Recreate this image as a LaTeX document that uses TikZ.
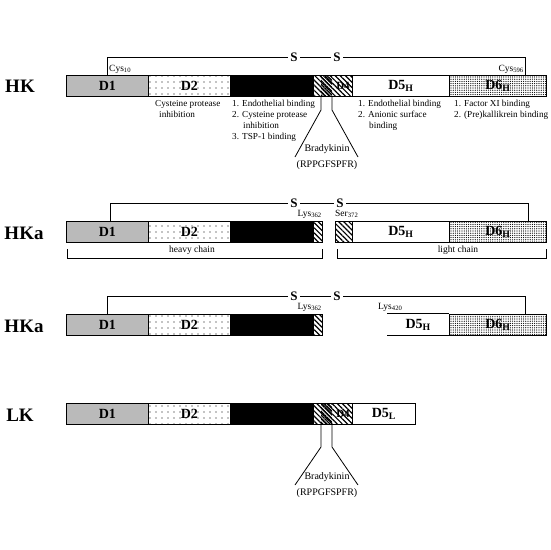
\documentclass[tikz,border=0pt]{standalone}
\usepackage{fontspec}
\setmainfont{Liberation Serif}
\usetikzlibrary{patterns,patterns.meta}
\begin{document}
\begin{tikzpicture}[x=1pt,y=-1pt,
  dom/.style={draw, line width=0.8pt, minimum height=21pt, inner sep=0pt, anchor=west, font=\fontsize{14}{14}\selectfont\bfseries},
  dgray/.style={fill=black!27},
  ddots/.style={pattern={Dots[distance=6pt,radius=0.6pt]}},
  dblack/.style={fill=black},
  dhatch/.style={pattern={Lines[angle=-45,distance=3.6pt,line width=1.2pt]}},
  dfine/.style={pattern={Dots[distance=2.2pt,radius=0.65pt]}},
  big/.style={font=\fontsize{19}{19}\selectfont\bfseries},
  sb/.style={fill=white, inner sep=2.5pt, font=\fontsize{13}{13}\selectfont\bfseries},
  small/.style={inner sep=0pt, font=\fontsize{9.5}{10}\selectfont},
  note/.style={inner sep=0pt, anchor=north west, align=left, font=\fontsize{9.2}{11}\selectfont},
  conn/.style={line width=0.8pt},
]
\useasboundingbox (0,0) rectangle (550,550);

% ================= HK =================
\node[big] (hk) at (20,86) {HK};
\node[dom,dgray,minimum width=82] (hkd1) at (66,85.5) {D1};
\node[dom,ddots,minimum width=82] (hkd2) at (148,85.5) {D2};
\node[dom,dblack,minimum width=83] (hkd3) at (230,85.5) {};
\node[dom,dhatch,minimum width=39] (hkd4) at (313,85.5) {};
\fill[pattern={Lines[angle=-45,distance=2.6pt,line width=1.3pt]}] (321,75) rectangle (332,96);
\node[inner sep=0pt,font=\fontsize{11}{11}\selectfont\bfseries] (hkd4l) at (343,86) {D4};
\draw[line width=0.8pt] (313,75) rectangle (352,96);
\node[dom,minimum width=97] (hkd5) at (352,85.5) {D5\textsubscript{H}};
\node[dom,dfine,minimum width=97] (hkd6) at (449,85.5) {D6\textsubscript{H}};

\coordinate (hkc1) at (107,75);
\coordinate (hkc2) at (525,75);
\draw[conn] (hkc1) -- (107,57) -- (525,57) -- (hkc2);
\node[sb] (hks1) at (294,57) {S};
\node[sb] (hks2) at (337,57) {S};
\node[small,anchor=west] (hkcys1) at (109,69) {Cys\textsubscript{10}};
\node[small,anchor=east] (hkcys2) at (524,69) {Cys\textsubscript{596}};

\node[note] (n2) at (155,100) {Cysteine protease\\\hspace{4pt}inhibition};
\node[note] (n3) at (232,100) {1. Endothelial binding\\2. Cysteine protease\\\hspace{11pt}inhibition\\3. TSP-1 binding};
\node[note] (n5) at (358,100) {1. Endothelial binding\\2. Anionic surface\\\hspace{11pt}binding};
\node[note] (n6) at (454,100) {1. Factor XI binding\\2. (Pre)kallikrein binding};

\coordinate (bka) at (321,96);
\coordinate (bkb) at (332,96);
\draw[conn] (bka) -- (321,110) -- (295,157);
\draw[conn] (bkb) -- (332,110) -- (358,157);
\node[inner sep=0pt,align=center,font=\fontsize{10}{16}\selectfont] (bk) at (327,157) {Bradykinin\\(RPPGFSPFR)};

% ================= HKa (1) =================
\node[big] (hka1) at (24,233) {HKa};
\node[dom,dgray,minimum width=82] (ad1) at (66,232) {D1};
\node[dom,ddots,minimum width=82] (ad2) at (148,232) {D2};
\node[dom,dblack,minimum width=83] (ad3) at (230,232) {};
\node[dom,dhatch,minimum width=9] (ad4) at (313,232) {};
\node[dom,dhatch,minimum width=17] (ad4b) at (335,232) {};
\node[dom,minimum width=97] (ad5) at (352,232) {D5\textsubscript{H}};
\node[dom,dfine,minimum width=97] (ad6) at (449,232) {D6\textsubscript{H}};

\coordinate (ac1) at (110,222);
\coordinate (ac2) at (528,222);
\draw[conn] (ac1) -- (110,203) -- (528,203) -- (ac2);
\node[sb] (as1) at (294,203) {S};
\node[sb] (as2) at (340,203) {S};
\node[small,anchor=east] (alys) at (322,214) {Lys\textsubscript{362}};
\node[small,anchor=west] (aser) at (335,214) {Ser\textsubscript{372}};

\coordinate (hc1) at (67,249);
\coordinate (hc2) at (322,249);
\draw[conn] (hc1) -- (67,258) -- (322,258) -- (hc2);
\node[inner sep=0pt,font=\fontsize{9.5}{11}\selectfont] (hcl) at (192,250) {heavy chain};
\coordinate (lc1) at (337,249);
\coordinate (lc2) at (546,249);
\draw[conn] (lc1) -- (337,258) -- (546,258) -- (lc2);
\node[inner sep=0pt,font=\fontsize{9.5}{11}\selectfont] (lcl) at (458,250) {light chain};

% ================= HKa (2) =================
\node[big] (hka2) at (24,326) {HKa};
\node[dom,dgray,minimum width=82] (bd1) at (66,324.5) {D1};
\node[dom,ddots,minimum width=82] (bd2) at (148,324.5) {D2};
\node[dom,dblack,minimum width=83] (bd3) at (230,324.5) {};
\node[dom,dhatch,minimum width=9] (bd4) at (313,324.5) {};
\node[inner sep=0pt,anchor=west,minimum width=62,minimum height=21,font=\fontsize{14}{14}\selectfont\bfseries] (bd5) at (387,324.5) {D5\textsubscript{H}};
\draw[line width=0.8pt] (bd5.north west) -- (bd5.north east) (bd5.south west) -- (bd5.south east);
\node[dom,dfine,minimum width=97] (bd6) at (449,324.5) {D6\textsubscript{H}};

\coordinate (bc1) at (107,314);
\coordinate (bc2) at (525,314);
\draw[conn] (bc1) -- (107,296) -- (525,296) -- (bc2);
\node[sb] (bs1) at (294,296) {S};
\node[sb] (bs2) at (337,296) {S};
\node[small,anchor=east] (blys) at (322,307) {Lys\textsubscript{362}};
\node[small,anchor=west] (blys2) at (378,307) {Lys\textsubscript{420}};

% ================= LK =================
\node[big] (lk) at (20,415) {LK};
\node[dom,dgray,minimum width=82] (ld1) at (66,413.5) {D1};
\node[dom,ddots,minimum width=82] (ld2) at (148,413.5) {D2};
\node[dom,dblack,minimum width=83] (ld3) at (230,413.5) {};
\node[dom,dhatch,minimum width=39] (ld4) at (313,413.5) {};
\fill[pattern={Lines[angle=-45,distance=2.6pt,line width=1.3pt]}] (321,403) rectangle (332,424);
\node[inner sep=0pt,font=\fontsize{11}{11}\selectfont\bfseries] (ld4l) at (343,414) {D4};
\draw[line width=0.8pt] (313,403) rectangle (352,424);
\node[dom,minimum width=63] (ld5) at (352,413.5) {D5\textsubscript{L}};

\coordinate (lka) at (321,424);
\coordinate (lkb) at (332,424);
\draw[conn] (lka) -- (321,447) -- (295,485);
\draw[conn] (lkb) -- (332,447) -- (358,485);
\node[inner sep=0pt,align=center,font=\fontsize{10}{16}\selectfont] (lbk) at (327,485) {Bradykinin\\(RPPGFSPFR)};
\end{tikzpicture}
\end{document}
